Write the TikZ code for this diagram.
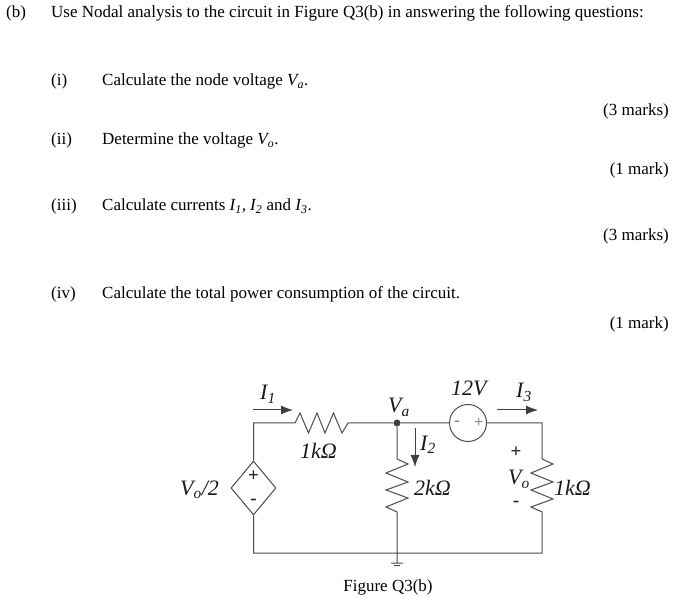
\documentclass[tikz,border=0pt]{standalone}
\usepackage{fontspec}
\setmainfont{Liberation Serif}
\usetikzlibrary{arrows.meta, shapes.geometric}
\tikzstyle{wire}=[draw=black!70, line width=1pt]
\tikzstyle{para}=[anchor=base west, inner sep=0pt, font=\fontsize{17}{20}\selectfont, text=black]
\tikzstyle{marks}=[anchor=base east, inner sep=0pt, font=\fontsize{17}{20}\selectfont, text=black]
\tikzstyle{lbl}=[anchor=base west, inner sep=0pt, font=\fontsize{22}{24}\selectfont\itshape, text=black!90]
\tikzstyle{sign}=[inner sep=0pt, font=\fontsize{19}{20}\selectfont\bfseries, text=black!85]
\tikzstyle{current}=[draw=black!75, line width=1pt, -{Latex[length=12pt,width=9pt]}]
\newcommand{\sub}[1]{\textsubscript{#1}}
\begin{document}
\begin{tikzpicture}[x=1pt, y=-1pt]
    \useasboundingbox (0,0) rectangle (673,596);
    % question text
    \node[para] (b) at (6,18) {(b)};
    \node[para] (q) at (51,18) {Use Nodal analysis to the circuit in Figure Q3(b) in answering the following questions:};
    \node[para] (i) at (51,86) {(i)};
    \node[para] (qi) at (102,86) {Calculate the node voltage \textit{V\sub{a}}.};
    \node[marks] (mi) at (669,116) {(3 marks)};
    \node[para] (ii) at (51,145) {(ii)};
    \node[para] (qii) at (102,145) {Determine the voltage \textit{V\sub{o}}.};
    \node[marks] (mii) at (669,175) {(1 mark)};
    \node[para] (iii) at (51,211) {(iii)};
    \node[para] (qiii) at (102,211) {Calculate currents \textit{I\sub{1}, I\sub{2}} and \textit{I\sub{3}}.};
    \node[marks] (miii) at (669,241) {(3 marks)};
    \node[para] (iv) at (51,299) {(iv)};
    \node[para] (qiv) at (102,299) {Calculate the total power consumption of the circuit.};
    \node[marks] (miv) at (669,329) {(1 mark)};
    % circuit
    \node[diamond, wire, minimum width=45pt, minimum height=54pt, inner sep=0pt] (src) at (253.5,488) {};
    \node[circle, wire, minimum size=37pt, inner sep=0pt] (vs) at (468,423) {};
    \node[circle, fill=black!75, inner sep=0pt, minimum size=7pt] (va) at (397,423) {};
    \coordinate (tl) at (253.5,423);
    \coordinate (bl) at (253.5,553);
    \coordinate (tr) at (542,423);
    \coordinate (br) at (542,553);
    \coordinate (bm) at (397,553);
    \coordinate (gnd) at (397,563);
    \coordinate (r1a) at (295,423);
    \coordinate (r1b) at (348,423);
    \coordinate (r2a) at (397,459);
    \coordinate (r2b) at (397,512);
    \coordinate (r3a) at (542,459);
    \coordinate (r3b) at (542,512);
    \path[wire]
        (src.north) -- (tl) -- (r1a)
        -- ++(5,-10) -- ++(8.5,20) -- ++(8.5,-20) -- ++(8,20) -- ++(8.5,-20) -- ++(8.5,20) -- (r1b)
        -- (va) -- (vs)
        (vs) -- (tr) -- (r3a)
        -- ++(11,5) -- ++(-22,9) -- ++(22,9) -- ++(-22,8) -- ++(22,9) -- ++(-22,8) -- (r3b)
        -- (br) -- (bl) -- (src.south)
        (va) -- (r2a)
        -- ++(11,5) -- ++(-22,9) -- ++(22,9) -- ++(-22,8) -- ++(22,8) -- ++(-22,9) -- (r2b)
        -- (bm) -- (gnd)
        (391,563) -- (403,563)
        (394,565.5) -- (400,565.5);
    % source signs
    \node[sign] (sp) at (253.5,476) {+};
    \node[sign] (sm) at (253.5,502) {-};
    \node[inner sep=0pt, text=black!60, font=\fontsize{16}{17}\selectfont] (vsm) at (457,423) {-};
    \node[inner sep=0pt, text=black!60, font=\fontsize{16}{17}\selectfont] (vsp) at (479,423) {+};
    \node[sign] (op) at (516,452) {+};
    \node[sign] (om) at (516,504) {-};
    % currents
    \coordinate (i1a) at (253,410);
    \coordinate (i1b) at (293,410);
    \coordinate (i2a) at (415,428);
    \coordinate (i2b) at (415,467);
    \coordinate (i3a) at (497,410);
    \coordinate (i3b) at (538,410);
    \draw[current] (i1a) -- (i1b);
    \draw[current] (i2a) -- (i2b);
    \draw[current] (i3a) -- (i3b);
    % labels
    \node[lbl] (li1) at (260,400) {I\sub{1}};
    \node[lbl] (lva) at (388,413) {V\sub{a}};
    \node[lbl] (l12) at (451,396) {12V};
    \node[lbl] (li3) at (516,398) {I\sub{3}};
    \node[lbl] (lr1) at (300,458) {1kΩ};
    \node[lbl] (li2) at (420,450) {I\sub{2}};
    \node[lbl] (lvo) at (180,495) {V\sub{o}/2};
    \node[lbl] (lr2) at (414,495) {2kΩ};
    \node[lbl] (lv) at (508,485) {V\sub{o}};
    \node[lbl] (lr3) at (554,495) {1kΩ};
    \node[para, anchor=base] (fig) at (388,591.5) {Figure Q3(b)};
\end{tikzpicture}
\end{document}
